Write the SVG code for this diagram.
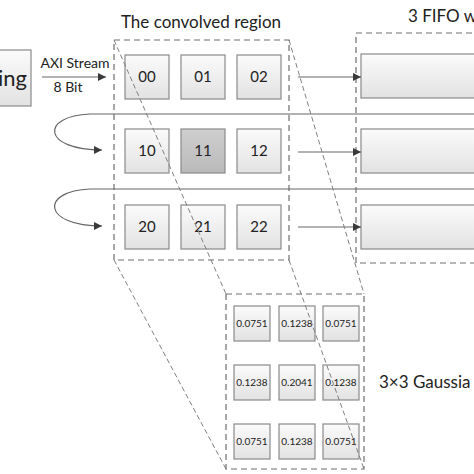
<svg xmlns="http://www.w3.org/2000/svg" width="474" height="474" viewBox="0 0 474 474">
<defs>
<linearGradient id="g" x1="0" y1="0" x2="0" y2="1"><stop offset="0" stop-color="#fbfbfb"/><stop offset="1" stop-color="#e2e2e2"/></linearGradient>
<linearGradient id="gd" x1="0" y1="0" x2="0" y2="1"><stop offset="0" stop-color="#cfcfcf"/><stop offset="1" stop-color="#b9b9b9"/></linearGradient>
<marker id="ah" viewBox="0 0 10 10" refX="10" refY="5" markerWidth="10" markerHeight="8" markerUnits="userSpaceOnUse" orient="auto"><path d="M0,0 L10,5 L0,10 z" fill="#3a3a3a"/></marker>
<style>
text{font-family:Lato,"Open Sans","Liberation Sans",sans-serif;fill:#222}
.cell{fill:url(#g);stroke:#8a8a8a;stroke-width:1.2}
.dark{fill:url(#gd);stroke:#8a8a8a;stroke-width:1.2}
.kc{fill:url(#g);stroke:#8a8a8a;stroke-width:1.2}
.ct{font-size:15px;text-anchor:middle}
.kt{font-size:10px;text-anchor:middle}
.dash{fill:none;stroke:#6e6e6e;stroke-width:1.2;stroke-dasharray:6 4}
.persp{fill:none;stroke:#808080;stroke-width:1;stroke-dasharray:5 3}
.conn{fill:none;stroke:#666;stroke-width:1.2}
</style>
</defs>
<rect width="474" height="474" fill="#ffffff"/>
<text x="201" y="28" font-size="17" text-anchor="middle">The convolved region</text>
<text x="408" y="22" font-size="17">3 FIFO w</text>
<text x="379" y="388" font-size="17">3×3 Gaussia</text>
<g id="fifo-region"><rect x="356" y="33" width="130" height="230" fill="#f8f8f8" class="dash"/></g>
<g id="source"><rect x="-10" y="50" width="41" height="56" class="cell"/><text x="27" y="86" font-size="22" text-anchor="end">ing</text></g>
<g id="convolved-region"><rect x="114" y="40" width="175" height="220" class="dash"/></g>
<g id="kernel-region"><rect x="226" y="294" width="138" height="175" class="dash"/></g>
<g id="c00"><rect x="125" y="55" width="44" height="44" class="cell"/><text x="147" y="82" class="ct">00</text></g>
<g id="c01"><rect x="181" y="55" width="44" height="44" class="cell"/><text x="203" y="82" class="ct">01</text></g>
<g id="c02"><rect x="237" y="55" width="44" height="44" class="cell"/><text x="259" y="82" class="ct">02</text></g>
<g id="c10"><rect x="125" y="129" width="44" height="44" class="cell"/><text x="147" y="156" class="ct">10</text></g>
<g id="c11"><rect x="181" y="129" width="44" height="44" class="dark"/><text x="203" y="156" class="ct">11</text></g>
<g id="c12"><rect x="237" y="129" width="44" height="44" class="cell"/><text x="259" y="156" class="ct">12</text></g>
<g id="c20"><rect x="125" y="205" width="44" height="44" class="cell"/><text x="147" y="232" class="ct">20</text></g>
<g id="c21"><rect x="181" y="205" width="44" height="44" class="cell"/><text x="203" y="232" class="ct">21</text></g>
<g id="c22"><rect x="237" y="205" width="44" height="44" class="cell"/><text x="259" y="232" class="ct">22</text></g>
<g id="fifo1"><rect x="361" y="54" width="130" height="44" class="cell"/></g>
<g id="fifo2"><rect x="361" y="129" width="130" height="44" class="cell"/></g>
<g id="fifo3"><rect x="361" y="205" width="130" height="44" class="cell"/></g>
<g id="k00"><rect x="234" y="306" width="36" height="35" class="kc"/><text x="252" y="327" class="kt">0.0751</text></g>
<g id="k01"><rect x="279" y="306" width="36" height="35" class="kc"/><text x="297" y="327" class="kt">0.1238</text></g>
<g id="k02"><rect x="323" y="306" width="36" height="35" class="kc"/><text x="341" y="327" class="kt">0.0751</text></g>
<g id="k10"><rect x="234" y="365" width="36" height="35" class="kc"/><text x="252" y="386" class="kt">0.1238</text></g>
<g id="k11"><rect x="279" y="365" width="36" height="35" class="kc"/><text x="297" y="386" class="kt">0.2041</text></g>
<g id="k12"><rect x="323" y="365" width="36" height="35" class="kc"/><text x="341" y="386" class="kt">0.1238</text></g>
<g id="k20"><rect x="234" y="424" width="36" height="35" class="kc"/><text x="252" y="445" class="kt">0.0751</text></g>
<g id="k21"><rect x="279" y="424" width="36" height="35" class="kc"/><text x="297" y="445" class="kt">0.1238</text></g>
<g id="k22"><rect x="323" y="424" width="36" height="35" class="kc"/><text x="341" y="445" class="kt">0.0751</text></g>
<g id="connectors">
<line x1="42" y1="77" x2="106" y2="77" class="conn" marker-end="url(#ah)"/>
<text x="75" y="68" font-size="14" text-anchor="middle">AXI Stream</text>
<text x="68" y="92" font-size="14" text-anchor="middle">8 Bit</text>
<line x1="298" y1="77" x2="361" y2="77" class="conn" marker-end="url(#ah)"/>
<line x1="298" y1="152" x2="361" y2="152" class="conn" marker-end="url(#ah)"/>
<line x1="298" y1="227" x2="361" y2="227" class="conn" marker-end="url(#ah)"/>
<path d="M474,114 L90,114 C40,116 42,150 102,150" class="conn" marker-end="url(#ah)"/>
<path d="M474,189 L90,189 C40,191 42,226 102,226" class="conn" marker-end="url(#ah)"/>
<line x1="114" y1="40" x2="226" y2="294" class="persp"/>
<line x1="289" y1="40" x2="364" y2="294" class="persp"/>
<line x1="114" y1="260" x2="226" y2="469" class="persp"/>
<line x1="289" y1="260" x2="364" y2="469" class="persp"/>
</g>
</svg>
